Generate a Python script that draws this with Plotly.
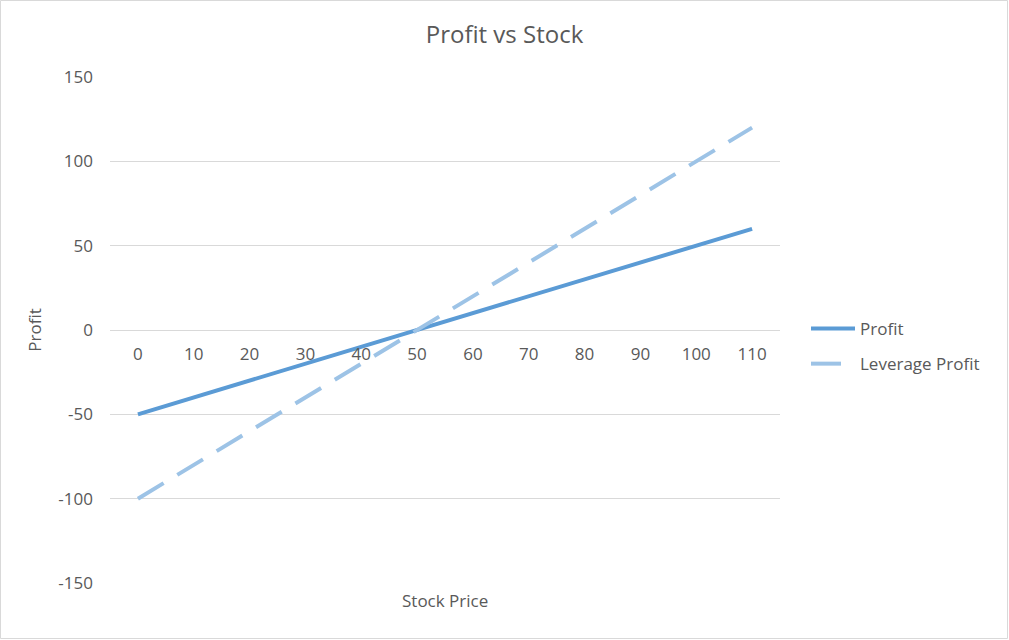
import plotly.graph_objects as go

stock_price = [0, 10, 20, 30, 40, 50, 60, 70, 80, 90, 100, 110]
profit = [-50, -40, -30, -20, -10, 0, 10, 20, 30, 40, 50, 60]
leverage_profit = [-100, -80, -60, -40, -20, 0, 20, 40, 60, 80, 100, 120]
y_ticks = [-150, -100, -50, 0, 50, 100, 150]

W, H = 1009, 640
ml, mr, mt, mb = 110, 229, 77, 57
pw, ph = W - ml - mr, H - mt - mb

txt = "#595959"
font = "Open Sans, DejaVu Sans, sans-serif"

fig = go.Figure()
fig.add_trace(go.Scatter(x=[str(v) for v in stock_price], y=profit, name="Profit", mode="lines",
                         legendgroup="a", line=dict(color="#5B9BD5", width=4)))
fig.add_trace(go.Scatter(x=[str(v) for v in stock_price], y=leverage_profit, name="Leverage Profit",
                         mode="lines", legendgroup="b",
                         line=dict(color="#9DC3E6", width=4, dash="30px,16px")))

fig.update_layout(
    width=W, height=H,
    margin=dict(l=ml, r=mr, t=mt, b=mb),
    paper_bgcolor="white", plot_bgcolor="white",
    font=dict(family=font, color=txt, size=17),
    title=dict(text="Profit vs Stock", x=0.5, xref="container", xanchor="center",
               y=1 - 35 / H, yanchor="middle", yref="container",
               font=dict(size=24, color=txt)),
    showlegend=True,
    legend=dict(x=(806 - ml) / pw, y=0.5 - 16.5 / ph, xanchor="left", yanchor="middle",
                font=dict(size=17, color=txt), tracegroupgap=10, itemwidth=44,
                bgcolor="rgba(0,0,0,0)"),
)

fig.update_xaxes(type="category", range=[-0.5, 11.5], showgrid=False, zeroline=False,
                 showline=False, ticks="", anchor="free", position=0.5,
                 tickfont=dict(size=17, color=txt), ticklabelstandoff=12)
fig.update_yaxes(range=[-150, 150], tickvals=y_ticks, ticktext=[str(v) for v in y_ticks],
                 showgrid=True, gridcolor="#D9D9D9",
                 gridwidth=1, zeroline=False, showline=False, ticks="",
                 tickfont=dict(size=17, color=txt), ticklabelstandoff=16,
                 title=dict(text="Profit", font=dict(size=17, color=txt), standoff=12))

fig.add_annotation(text="Stock Price", xref="paper", yref="paper", x=0.5, y=-17 / ph,
                   showarrow=False, font=dict(size=17, color=txt), xanchor="center", yanchor="middle")

fig.add_shape(type="rect", xref="paper", yref="paper",
              x0=-(ml - 0.5) / pw, x1=1 + (mr - 1.5) / pw,
              y0=-(mb - 1.5) / ph, y1=1 + (mt - 0.5) / ph,
              line=dict(color="#D9D9D9", width=1), layer="below")

fig.write_html("out.html", config={"displayModeBar": False},
               post_script="document.body.style.margin='0px';")
